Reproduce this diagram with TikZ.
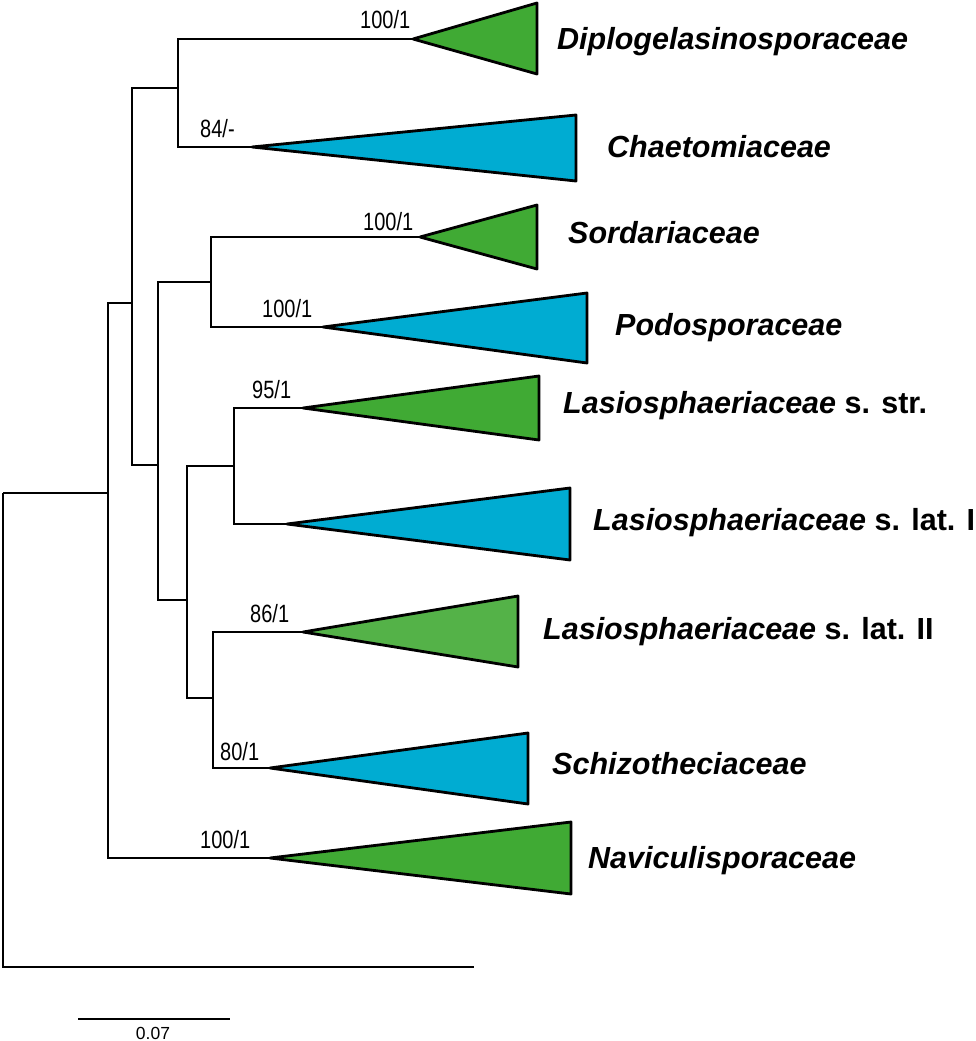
\documentclass[tikz,border=0pt]{standalone}
\usepackage{fontspec}
\setmainfont{Liberation Sans}
\newfontfamily\narrowfont[FakeStretch=0.8]{Liberation Sans}
\definecolor{cgreen}{RGB}{64,170,52}
\definecolor{cgreenlt}{RGB}{84,178,72}
\definecolor{cblue}{RGB}{0,172,210}
\begin{document}
\begin{tikzpicture}[x=1pt,y=-1pt,
  branch/.style={line width=2.6pt, line join=miter},
  clade/.style={draw=black, line width=2.8pt, line join=round},
  taxon/.style={anchor=base west, inner sep=0pt, font=\fontsize{30.5}{36}\selectfont\bfseries\itshape},
  support/.style={anchor=base west, inner sep=0pt, font=\narrowfont\fontsize{25}{30}\selectfont},
  scalelbl/.style={inner sep=0pt, font=\fontsize{17.5}{20}\selectfont}]
\useasboundingbox (0,0) rectangle (975,1041);
% internal nodes (entry points)
\coordinate (root) at (3,493);
\coordinate (n1) at (108,493);
\coordinate (n2) at (132,303);
\coordinate (n3) at (178,88);
\coordinate (n4) at (158,465);
\coordinate (n5) at (211,282);
\coordinate (n6) at (187,600);
\coordinate (n7) at (234,466);
\coordinate (n8) at (213,698);
\coordinate (og) at (474,967);
% clade apices
\coordinate (tDip) at (413,39);
\coordinate (tCha) at (252,147);
\coordinate (tSor) at (420,237);
\coordinate (tPod) at (323,327);
\coordinate (tLss) at (303,408);
\coordinate (tLs1) at (287,524);
\coordinate (tLs2) at (303,632);
\coordinate (tSch) at (270,768);
\coordinate (tNav) at (270,858);
% branches
\draw[branch] (root) |- (n1);
\draw[branch] (root) |- (og);
\draw[branch] (n1) |- (n2);
\draw[branch] (n1) |- (tNav);
\draw[branch] (n2) |- (n3);
\draw[branch] (n2) |- (n4);
\draw[branch] (n3) |- (tDip);
\draw[branch] (n3) |- (tCha);
\draw[branch] (n4) |- (n5);
\draw[branch] (n4) |- (n6);
\draw[branch] (n5) |- (tSor);
\draw[branch] (n5) |- (tPod);
\draw[branch] (n6) |- (n7);
\draw[branch] (n6) |- (n8);
\draw[branch] (n7) |- (tLss);
\draw[branch] (n7) |- (tLs1);
\draw[branch] (n8) |- (tLs2);
\draw[branch] (n8) |- (tSch);
% collapsed clades
\filldraw[clade, fill=cgreen] (tDip) -- (537,3) -- (537,74) -- cycle;
\filldraw[clade, fill=cblue] (tCha) -- (576,115) -- (576,181) -- cycle;
\filldraw[clade, fill=cgreen] (tSor) -- (537,205) -- (537,269) -- cycle;
\filldraw[clade, fill=cblue] (tPod) -- (587,293) -- (587,363) -- cycle;
\filldraw[clade, fill=cgreen] (tLss) -- (539,376) -- (539,440) -- cycle;
\filldraw[clade, fill=cblue] (tLs1) -- (570,488) -- (570,560) -- cycle;
\filldraw[clade, fill=cgreenlt] (tLs2) -- (518,596) -- (518,667) -- cycle;
\filldraw[clade, fill=cblue] (tSch) -- (528,733) -- (528,804) -- cycle;
\filldraw[clade, fill=cgreen] (tNav) -- (571,822) -- (571,894) -- cycle;
% taxon labels
\node[taxon] (lDip) at (557,49) {Diplogelasinosporaceae};
\node[taxon] (lCha) at (607,157) {Chaetomiaceae};
\node[taxon] (lSor) at (568,243) {Sordariaceae};
\node[taxon] (lPod) at (615,335) {Podosporaceae};
\node[taxon] (lLss) at (563,413) {Lasiosphaeriaceae\textup{ s. str.}};
\node[taxon] (lLs1) at (593,530) {Lasiosphaeriaceae\textup{ s. lat. I}};
\node[taxon] (lLs2) at (543,639) {Lasiosphaeriaceae\textup{ s. lat. II}};
\node[taxon] (lSch) at (552,774) {Schizotheciaceae};
\node[taxon] (lNav) at (588,868) {Naviculisporaceae};
% support values
\node[support] (sDip) at (360,29) {100/1};
\node[support] (sCha) at (200,137) {84/-};
\node[support] (sSor) at (363,230) {100/1};
\node[support] (sPod) at (262,317) {100/1};
\node[support] (sLss) at (252,398) {95/1};
\node[support] (sLs2) at (250,622) {86/1};
\node[support] (sSch) at (220,760) {80/1};
\node[support] (sNav) at (200,848) {100/1};
% scale bar
\coordinate (sb1) at (78,1019);
\coordinate (sb2) at (230,1019);
\draw[line width=2.6pt] (sb1) -- (sb2);
\node[scalelbl] (sbl) at (153,1033) {0.07};
\end{tikzpicture}
\end{document}
